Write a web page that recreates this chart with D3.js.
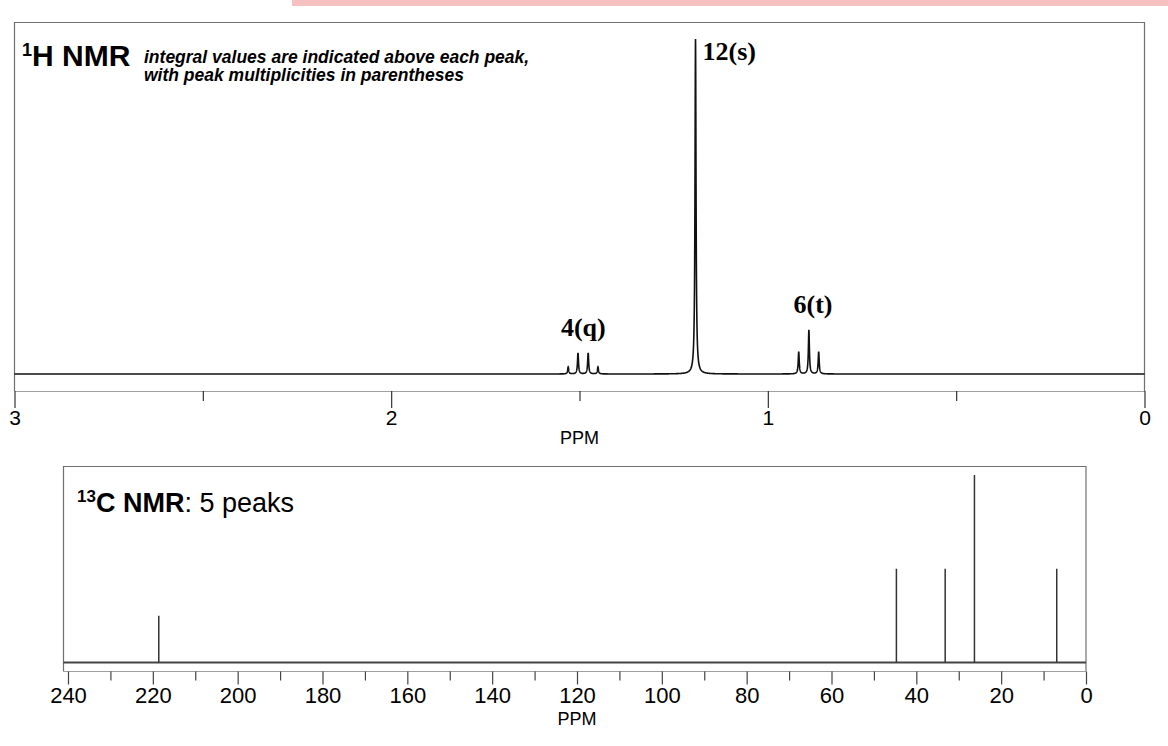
<!DOCTYPE html>
<html><head><meta charset="utf-8">
<script src="https://cdn.jsdelivr.net/npm/d3@7"></script>
<style>body{margin:0;background:#fff}svg{display:block}</style>
</head><body>
<svg id="c" width="1168" height="746"></svg>
<script>
// 1H NMR peak list (ppm, relative intensity)
const hShifts  = [1.530, 1.504, 1.477, 1.451, 1.192, 0.918, 0.891, 0.865];
const hHeights = [0.021, 0.063, 0.063, 0.021, 1.000, 0.066, 0.131, 0.066];
// 1H group labels
const hLabels      = ["4(q)", "12(s)", "6(t)"];
const hLabelShifts = [1.490, 1.192, 0.880];
const hLabelTops   = [0.063, 1.000, 0.131];
const hMajorTicks = [3, 2, 1, 0];
const hMinorTicks = [2.5, 1.5, 0.5];
// 13C NMR peak list
const cShifts  = [218.6, 44.7, 33.2, 26.3, 6.9];
const cHeights = [0.25, 0.50, 0.50, 1.00, 0.50];
const cMajorTicks = [240, 220, 200, 180, 160, 140, 120, 100, 80, 60, 40, 20, 0];
const cMinorTicks = [230, 210, 190, 170, 150, 130, 110, 90, 70, 50, 30, 10];

const svg = d3.select("#c");
const sans = "'Liberation Sans', Arial, sans-serif";
const serif = "'Liberation Serif', 'Times New Roman', serif";

// pink banner at top
svg.append("rect").attr("x", 292).attr("y", 0).attr("width", 876).attr("height", 6).attr("fill", "#f5c1c1");

// ---------- Top: 1H ----------
const xH = d3.scaleLinear().domain([3, 0]).range([14.5, 1144.5]);
const yH = d3.scaleLinear().domain([0, 1]).range([374, 39]);
const axisYH = 391;

svg.append("path")
  .attr("d", `M${xH(3)},${axisYH}V22.5H${xH(0)}V${axisYH}`)
  .attr("fill", "none").attr("stroke", "#707070").attr("stroke-width", 1.2);

// lineshape from peak list (Lorentzian)
const hw = 0.0016;
const pts = [];
const N = 12000;
for (let i = 0; i <= N; i++) {
  const p = 3 - 3 * i / N;
  let s = 0;
  for (let k = 0; k < hShifts.length; k++) {
    const d = (p - hShifts[k]) / hw;
    s += hHeights[k] / (1 + d * d);
  }
  pts.push([p, s]);
}
svg.append("path").datum(pts)
  .attr("d", d3.line().x(d => xH(d[0])).y(d => yH(d[1])))
  .attr("fill", "none").attr("stroke", "#111").attr("stroke-width", 1.6);

const gAxH = svg.append("g").attr("transform", `translate(0,${axisYH})`)
  .call(d3.axisBottom(xH).tickValues(hMajorTicks).tickSize(17).tickSizeOuter(0).tickFormat(d3.format("d")));
gAxH.select(".domain").attr("stroke", "#a0a0a0").attr("stroke-width", 1.2);
gAxH.selectAll(".tick line").attr("stroke", "#333").attr("stroke-width", 1.2);
gAxH.selectAll(".tick text").attr("font-family", sans).attr("font-size", 21).attr("fill", "#000").attr("dy", "0.95em").attr("y", 14);
const gMinH = svg.append("g").attr("transform", `translate(0,${axisYH})`)
  .call(d3.axisBottom(xH).tickValues(hMinorTicks).tickSize(10).tickSizeOuter(0).tickFormat(""));
gMinH.select(".domain").remove();
gMinH.selectAll(".tick line").attr("stroke", "#333").attr("stroke-width", 1.2);

svg.append("text").attr("x", xH(1.5)).attr("y", 444).attr("text-anchor", "middle")
  .attr("font-family", sans).attr("font-size", 18).text("PPM");

// titles
const tH = svg.append("text").attr("x", 22).attr("y", 66).attr("font-family", sans).attr("font-weight", "bold");
tH.append("tspan").attr("font-size", 18).attr("dy", -10).text("1");
tH.append("tspan").attr("font-size", 30).attr("dy", 10).text("H NMR");
svg.append("text").attr("x", 144).attr("y", 63).attr("font-family", sans).attr("font-weight", "bold")
  .attr("font-style", "italic").attr("font-size", 17.5).text("integral values are indicated above each peak,");
svg.append("text").attr("x", 144).attr("y", 81).attr("font-family", sans).attr("font-weight", "bold")
  .attr("font-style", "italic").attr("font-size", 17.5).text("with peak multiplicities in parentheses");

// peak labels
hLabels.forEach((t, i) => {
  const isS = i === 1;
  svg.append("text")
    .attr("x", isS ? xH(hLabelShifts[i]) + 7 : xH(hLabelShifts[i]))
    .attr("y", isS ? 60 : yH(hLabelTops[i]) - 17)
    .attr("text-anchor", isS ? "start" : "middle")
    .attr("font-family", serif).attr("font-weight", "bold").attr("font-size", 26).text(t);
});

// ---------- Bottom: 13C ----------
const xC = d3.scaleLinear().domain([240, 0]).range([68, 1086]);
const yC = d3.scaleLinear().domain([0, 1]).range([662.5, 475]);
const axisYC = 671.5;
const leftC = 63.5;

svg.append("path")
  .attr("d", `M${leftC},${axisYC}V466.5H${xC(0)}V${axisYC}`)
  .attr("fill", "none").attr("stroke", "#707070").attr("stroke-width", 1.2);
svg.append("line").attr("x1", leftC).attr("x2", xC(0)).attr("y1", yC(0)).attr("y2", yC(0))
  .attr("stroke", "#444").attr("stroke-width", 2.2);
svg.selectAll("line.cpk").data(cShifts).join("line").attr("class", "cpk")
  .attr("x1", d => xC(d)).attr("x2", d => xC(d))
  .attr("y1", yC(0)).attr("y2", (d, i) => yC(cHeights[i]))
  .attr("stroke", "#333").attr("stroke-width", 1.5);

const gAxC = svg.append("g").attr("transform", `translate(0,${axisYC})`)
  .call(d3.axisBottom(xC).tickValues(cMajorTicks).tickSize(13).tickSizeOuter(0));
gAxC.select(".domain").attr("d", `M${leftC},0H${xC(0)}`).attr("stroke", "#a0a0a0").attr("stroke-width", 1.2);
gAxC.selectAll(".tick line").attr("stroke", "#444").attr("stroke-width", 1.2);
gAxC.selectAll(".tick text").attr("font-family", sans).attr("font-size", 22).attr("fill", "#000").attr("y", 0).attr("dy", null)
  .attr("transform", "translate(0,31.5)");
const gMinC = svg.append("g").attr("transform", `translate(0,${axisYC})`)
  .call(d3.axisBottom(xC).tickValues(cMinorTicks).tickSize(9).tickSizeOuter(0).tickFormat(""));
gMinC.select(".domain").remove();
gMinC.selectAll(".tick line").attr("stroke", "#444").attr("stroke-width", 1.2);

svg.append("text").attr("x", xC(120)).attr("y", 725).attr("text-anchor", "middle")
  .attr("font-family", sans).attr("font-size", 18).text("PPM");

const tC = svg.append("text").attr("x", 77).attr("y", 512).attr("font-family", sans).attr("font-size", 27);
tC.append("tspan").attr("font-weight", "bold").attr("font-size", 17).attr("dy", -10).text("13");
tC.append("tspan").attr("font-weight", "bold").attr("dy", 10).text("C NMR");
tC.append("tspan").text(": 5 peaks");
</script>
</body></html>
